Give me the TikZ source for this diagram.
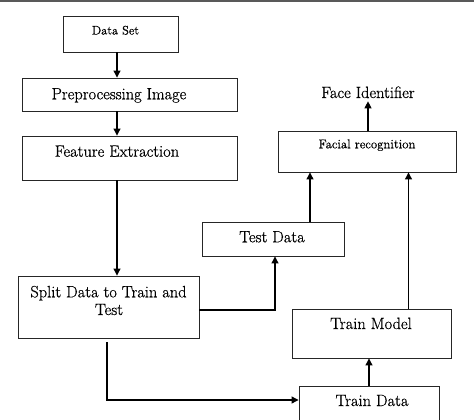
\documentclass[tikz,border=0pt]{standalone}
\usepackage{fontspec}
\setmainfont{Latin Modern Roman}[FakeBold=0.6]
\usetikzlibrary{arrows.meta,calc}
\begin{document}
\begin{tikzpicture}[x=1pt,y=-1pt,
  box/.style={draw=black!85,line width=0.9pt,inner sep=0pt},
  arr/.style={line width=1.1pt,-{Triangle[length=7pt,width=7pt]}},
  big/.style={font=\fontsize{16.4}{19}\selectfont,anchor=base,inner sep=0pt},
  small/.style={font=\fontsize{12.4}{14}\selectfont,anchor=base,inner sep=0pt},
  mid/.style={font=\fontsize{12.8}{15}\selectfont,anchor=base,inner sep=0pt}]
\useasboundingbox (0,0) rectangle (474,420);
\clip (0,0) rectangle (474,420);
\fill[black!65] (0,0) rectangle (474,2.5);
% boxes
\node[box,minimum width=115pt,minimum height=36pt] (ds) at (120.5,34) {};
\node[box,minimum width=215pt,minimum height=33pt] (pp) at (129.5,94.5) {};
\node[box,minimum width=215pt,minimum height=44pt] (fe) at (129.5,158) {};
\node[box,minimum width=181pt,minimum height=62pt] (sp) at (108.5,307) {};
\node[box,minimum width=142pt,minimum height=34pt] (td) at (273,239) {};
\node[box,minimum width=178pt,minimum height=41pt] (fr) at (367,151.5) {};
\node[box,minimum width=159pt,minimum height=49pt] (tm) at (371.5,333.5) {};
\node[box,minimum width=140pt,minimum height=40pt] (trd) at (369,406) {};
% texts
\node[small] (tds) at (115.5,34.5) {Data Set};
\node[big] (tpp) at (119,99.3) {Preprocessing Image};
\node[big] (tfe) at (117,156.7) {Feature Extraction};
\node[big] (tsp1) at (108.5,297.3) {Split Data to Train and};
\node[big] (tsp2) at (109,315) {Test};
\node[big] (ttd) at (272,242.3) {Test Data};
\node[mid] (tfr) at (367,148.3) {Facial recognition};
\node[big] (ttm) at (371,329) {Train Model};
\node[big] (ttrd) at (372,406) {Train Data};
\node[big] (fi) at (368,98) {Face Identifier};
% connectors
\draw[arr] ([xshift=-3.5pt]ds.south) -- ([xshift=-3.5pt]ds.south |- pp.north);
\draw[arr] ([xshift=-12.5pt]pp.south) -- ([xshift=-12.5pt]pp.south |- fe.north);
\draw[arr] ([xshift=-12.5pt]fe.south) -- ([xshift=-12.5pt]fe.south |- sp.north);
\draw[arr] ([yshift=-3pt]sp.east) -| ([xshift=2pt]td.south);
\draw[arr] ([xshift=37pt]td.north) -- ([xshift=37pt]td.north |- fr.south);
\draw[arr] ([xshift=1pt]fr.north) -- ([yshift=-3pt]fi.south);
\draw[arr] ([xshift=37pt]tm.north) -- ([xshift=37pt]tm.north |- fr.south);
\draw[arr] (trd.north) -- (trd.north |- tm.south);
\draw[arr] ([xshift=-1.5pt,yshift=-4pt]sp.south) |- ([yshift=6pt]trd.west);
\end{tikzpicture}
\end{document}
